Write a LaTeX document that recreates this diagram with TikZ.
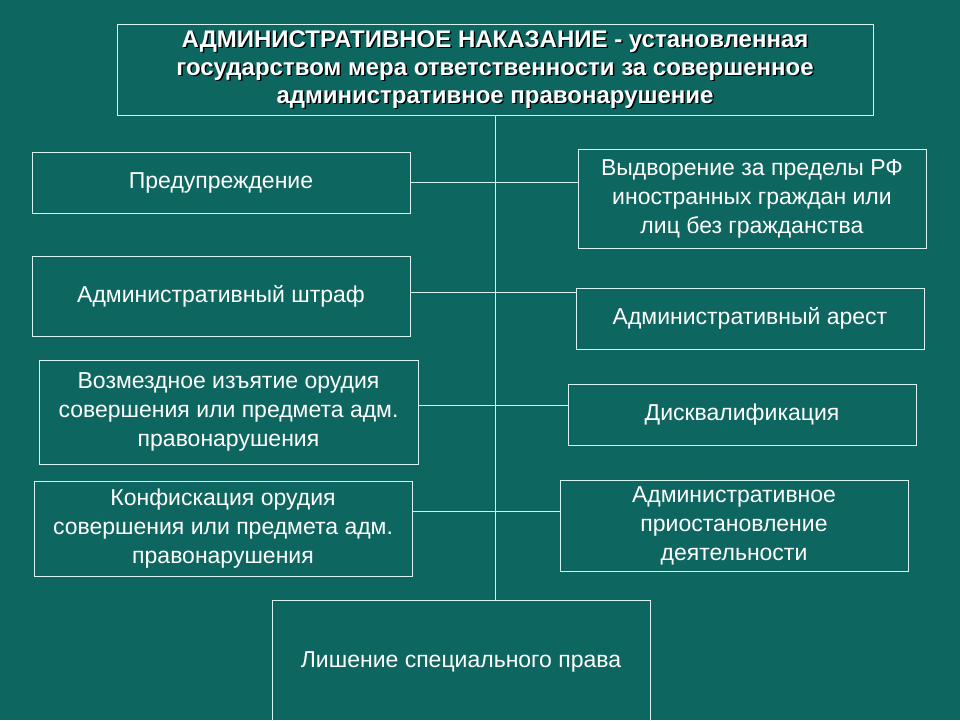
\documentclass[tikz,border=0pt]{standalone}
\usepackage{fontspec}
\setmainfont{Liberation Sans}
\definecolor{bg}{HTML}{0E6660}
\definecolor{ln}{HTML}{D8F4F0}
\begin{document}
\begin{tikzpicture}[x=1pt,y=-1pt,
 box/.style={draw=ln,line width=0.8pt,text=white,align=center,font=\fontsize{23}{29}\selectfont,inner sep=0pt},
 conn/.style={draw=ln,line width=0.7pt}]
\fill[bg] (0,0) rectangle (960,720);
\useasboundingbox (0,0) rectangle (960,720);
\node[box,minimum width=756,minimum height=91] (t) at (495,69.5) {};
\node[text=black,align=center,font=\bfseries\fontsize{24}{28}\selectfont] at (496.5,71) {АДМИНИСТРАТИВНОЕ НАКАЗАНИЕ - установленная\\государством мера ответственности за совершенное\\административное правонарушение};
\node[text=white,align=center,font=\bfseries\fontsize{24}{28}\selectfont] at (495,69.5) {АДМИНИСТРАТИВНОЕ НАКАЗАНИЕ - установленная\\государством мера ответственности за совершенное\\административное правонарушение};
\node[box,minimum width=378,minimum height=61] (a) at (221,182.5) {Предупреждение};
\node[box,minimum width=348,minimum height=99] (b) at (752,198.5) {Выдворение за пределы РФ\\иностранных граждан или\\лиц без гражданства};
\node[box,minimum width=378,minimum height=80] (c) at (221,296) {Административный штраф};
\node[box,minimum width=348,minimum height=61] (d) at (750,318.5) {Административный арест};
\node[box,minimum width=379,minimum height=104] (e) at (228.5,412) {Возмездное изъятие орудия\\совершения или предмета адм.\\правонарушения};
\node[box,minimum width=348,minimum height=61] (f) at (742,414.5) {Дисквалификация};
\node[box,minimum width=378,minimum height=95] (g) at (223,528.5) {Конфискация орудия\\совершения или предмета адм.\\правонарушения};
\node[box,minimum width=348,minimum height=91] (h) at (734,525.5) {Административное\\приостановление\\деятельности};
\node[box,minimum width=378,minimum height=124] (i) at (461,662) {Лишение специального права};
\coordinate (top) at (495,115);
\draw[conn] (t.south -| top) -- (i.north -| top);
\draw[conn] (a.east) -- (a.east -| b.west);
\draw[conn] (c.east |- 0,292) -- (d.west |- 0,292);
\draw[conn] (e.east |- 0,405) -- (f.west |- 0,405);
\draw[conn] (g.east |- 0,511) -- (h.west |- 0,511);
\end{tikzpicture}
\end{document}
